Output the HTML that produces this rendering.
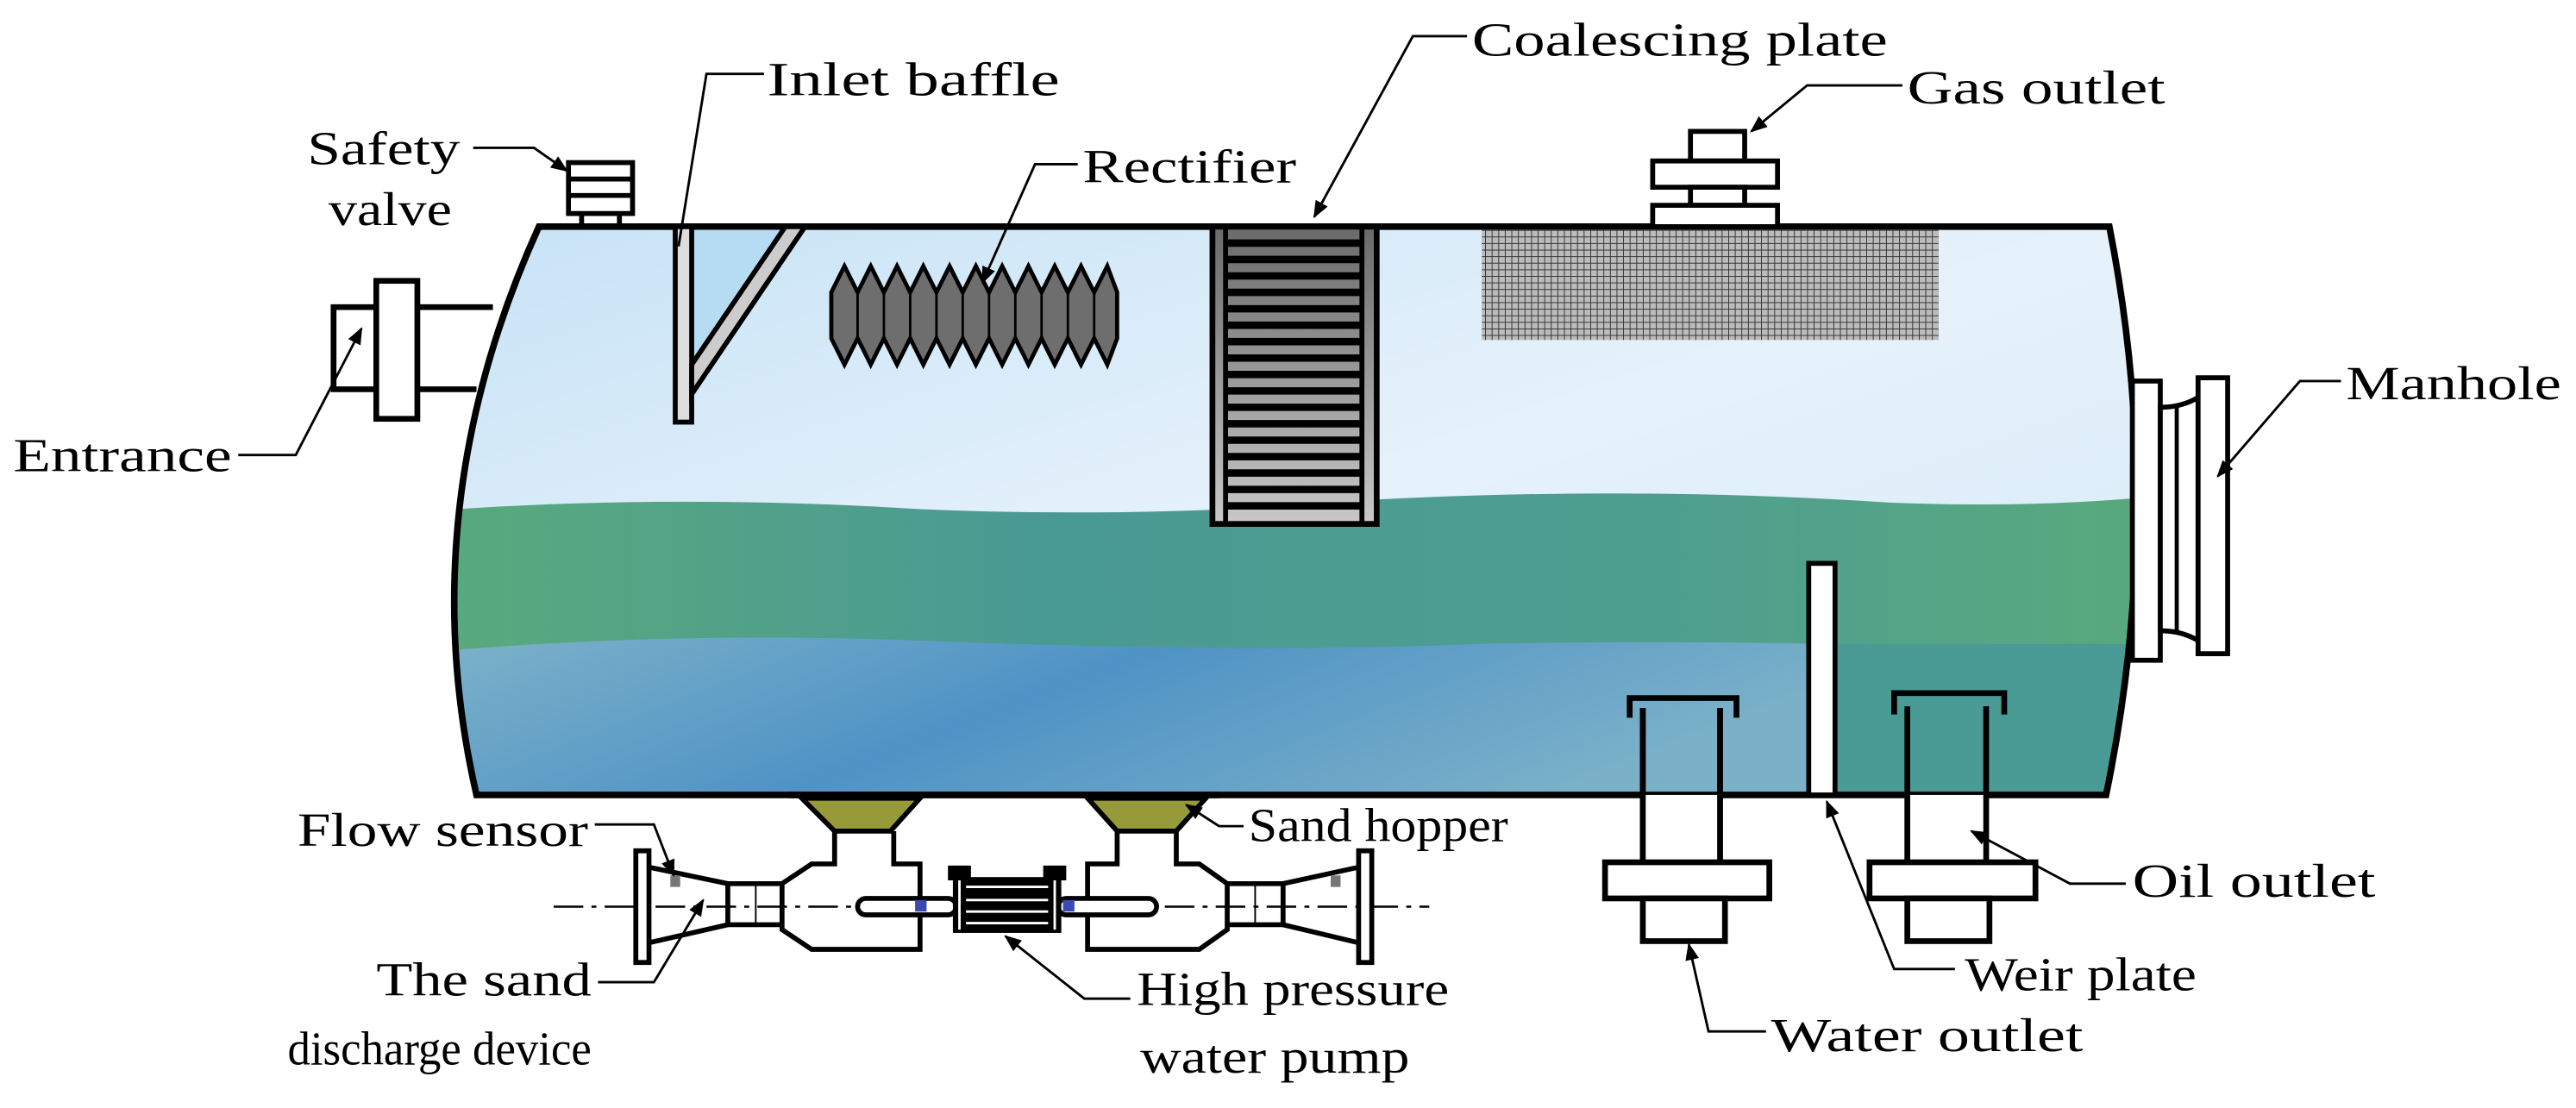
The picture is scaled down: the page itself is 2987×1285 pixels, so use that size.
<!DOCTYPE html>
<html><head><meta charset="utf-8"><style>
html,body{margin:0;padding:0;background:#fff;}
svg{display:block;}
text{font-family:"Liberation Serif",serif;font-size:29px;fill:#000;}
</style></head><body>
<svg width="2987" height="1285" viewBox="0 0 1568 674.6" xmlns="http://www.w3.org/2000/svg">
<defs>
<linearGradient id="gtop" x1="0" y1="0" x2="1" y2="1"><stop offset="0" stop-color="#c6e2f6"/><stop offset="0.5" stop-color="#e6f2fb"/><stop offset="1" stop-color="#d2e8f7"/></linearGradient>
<linearGradient id="gmid" x1="0" y1="0" x2="1" y2="0"><stop offset="0" stop-color="#5aaa7c"/><stop offset="0.35" stop-color="#4a9a94"/><stop offset="0.7" stop-color="#4e9e90"/><stop offset="1" stop-color="#5aaa7c"/></linearGradient>
<linearGradient id="gbot" x1="0" y1="0" x2="1" y2="0.3"><stop offset="0" stop-color="#7fb3c8"/><stop offset="0.5" stop-color="#4f93c6"/><stop offset="1" stop-color="#7ab0c8"/></linearGradient>
<linearGradient id="gcoal" x1="0" y1="0" x2="0" y2="1"><stop offset="0" stop-color="#6a6a6a"/><stop offset="1" stop-color="#c8c8c8"/></linearGradient>
<pattern id="mesh" width="4" height="4" patternUnits="userSpaceOnUse"><rect width="4" height="4" fill="#bbb"/><path d="M0 0H4M0 0V4" stroke="#333" stroke-width="1"/></pattern>
<clipPath id="tank"><path d="M328 138 L1284 138 Q1318 310 1282 484 L290 484 Q250 310 328 138 Z"/></clipPath>
<marker id="ar" viewBox="0 0 10 10" refX="9" refY="5" markerWidth="7" markerHeight="7" orient="auto"><path d="M0 1 L10 5 L0 9 Z" fill="#000"/></marker>
</defs>

<!-- tank fill -->
<g clip-path="url(#tank)">
<rect x="250" y="130" width="1080" height="360" fill="url(#gtop)"/>
<path d="M250 312 Q400 300 560 310 Q700 316 840 304 Q1000 296 1150 306 Q1250 310 1330 300 L1330 490 L250 490 Z" fill="url(#gmid)"/>
<path d="M250 398 Q400 384 560 390 Q760 398 900 392 Q1000 390 1110 392 L1110 490 L250 490 Z" fill="url(#gbot)"/>
<path d="M1117 392 L1330 392 L1330 490 L1117 490 Z" fill="#4a9a96"/>
</g>
<path d="M328 138 L1284 138 Q1318 310 1282 484 L290 484 Q250 310 328 138 Z" fill="none" stroke="#000" stroke-width="4"/>

<!-- safety valve -->
<rect x="346" y="99" width="39" height="31" fill="#fff" stroke="#000" stroke-width="3"/>
<line x1="346" y1="109" x2="385" y2="109" stroke="#000" stroke-width="3"/>
<line x1="346" y1="119" x2="385" y2="119" stroke="#000" stroke-width="3"/>
<line x1="354" y1="130" x2="354" y2="138" stroke="#000" stroke-width="3"/>
<line x1="377" y1="130" x2="377" y2="138" stroke="#000" stroke-width="3"/>

<!-- entrance -->
<path d="M300 187 L203 187 L203 237 L290 237" fill="#fff" stroke="#000" stroke-width="3.5"/>
<rect x="229" y="171" width="25" height="84" fill="#fff" stroke="#000" stroke-width="3.5"/>

<!-- inlet baffle -->
<path d="M421 140 L478 140 L421 232 Z" fill="#b6dcf4"/>
<rect x="411" y="138" width="10" height="119" fill="#ddd" stroke="#000" stroke-width="3"/>
<path d="M421 222 L478 138 L490 138 L421 240 Z" fill="#ccc" stroke="#000" stroke-width="3"/>

<!-- rectifier -->
<path d="M506 178 L514 162 L522 178 L530 162 L538 178 L546 162 L554 178 L562 162 L570 178 L578 162 L586 178 L594 162 L602 178 L610 162 L618 178 L626 162 L634 178 L642 162 L650 178 L658 162 L666 178 L674 162 L680 178 L680 206 L674 222 L666 206 L658 222 L650 206 L642 222 L634 206 L626 222 L618 206 L610 222 L602 206 L594 222 L586 206 L578 222 L570 206 L562 222 L554 206 L546 222 L538 206 L530 222 L522 206 L514 222 L506 206 Z" fill="#6e6e6e" stroke="#000" stroke-width="2.5" stroke-linejoin="miter"/>
<g stroke="#000" stroke-width="1.5"><line x1="522" y1="178" x2="522" y2="206"/><line x1="538" y1="178" x2="538" y2="206"/><line x1="554" y1="178" x2="554" y2="206"/><line x1="570" y1="178" x2="570" y2="206"/><line x1="586" y1="178" x2="586" y2="206"/><line x1="602" y1="178" x2="602" y2="206"/><line x1="618" y1="178" x2="618" y2="206"/><line x1="634" y1="178" x2="634" y2="206"/><line x1="650" y1="178" x2="650" y2="206"/><line x1="666" y1="178" x2="666" y2="206"/></g>

<!-- coalescing plate -->
<rect x="738" y="138" width="100" height="181" fill="url(#gcoal)" stroke="#000" stroke-width="3.5"/>
<rect x="746" y="138" width="83" height="181" fill="none" stroke="#000" stroke-width="3"/>
<g stroke="#000" stroke-width="4.5">
<line x1="746" y1="148" x2="829" y2="148"/><line x1="746" y1="158" x2="829" y2="158"/><line x1="746" y1="168" x2="829" y2="168"/><line x1="746" y1="178" x2="829" y2="178"/><line x1="746" y1="188" x2="829" y2="188"/><line x1="746" y1="198" x2="829" y2="198"/><line x1="746" y1="208" x2="829" y2="208"/><line x1="746" y1="218" x2="829" y2="218"/><line x1="746" y1="228" x2="829" y2="228"/><line x1="746" y1="238" x2="829" y2="238"/><line x1="746" y1="248" x2="829" y2="248"/><line x1="746" y1="258" x2="829" y2="258"/><line x1="746" y1="268" x2="829" y2="268"/><line x1="746" y1="278" x2="829" y2="278"/><line x1="746" y1="288" x2="829" y2="288"/><line x1="746" y1="298" x2="829" y2="298"/><line x1="746" y1="308" x2="829" y2="308"/>
</g>

<!-- mesh -->
<rect x="902" y="140" width="278" height="67" fill="url(#mesh)"/>

<!-- gas outlet -->
<rect x="1029" y="80" width="33" height="18" fill="#fff" stroke="#000" stroke-width="3"/>
<rect x="1006" y="98" width="76" height="16" fill="#fff" stroke="#000" stroke-width="3"/>
<rect x="1029" y="114" width="33" height="11" fill="#fff" stroke="#000" stroke-width="3"/>
<rect x="1006" y="125" width="76" height="13" fill="#fff" stroke="#000" stroke-width="3"/>

<!-- manhole -->
<rect x="1298" y="232" width="17" height="170" fill="#fff" stroke="#000" stroke-width="3"/>
<path d="M1315 248 Q1328 248 1338 242 L1338 390 Q1328 384 1315 384 Z" fill="#fff" stroke="#000" stroke-width="3"/>
<line x1="1325" y1="246" x2="1325" y2="386" stroke="#000" stroke-width="2.5"/>
<rect x="1338" y="230" width="18" height="168" fill="#fff" stroke="#000" stroke-width="3"/>

<!-- weir plate -->
<rect x="1101" y="343" width="16" height="141" fill="#fff" stroke="#000" stroke-width="3"/>

<!-- water outlet -->
<path d="M992 437 L992 425 L1057 425 L1057 437" fill="none" stroke="#000" stroke-width="3.5"/>
<rect x="1000" y="431" width="47" height="94" fill="none" stroke="none"/>
<path d="M1000 431 L1000 525 M1047 431 L1047 525" stroke="#000" stroke-width="3.5"/>
<rect x="1000" y="484" width="47" height="41" fill="#fff"/>
<path d="M1000 431 L1000 525 M1047 431 L1047 525" stroke="#000" stroke-width="3.5"/>
<rect x="977" y="525" width="100" height="22" fill="#fff" stroke="#000" stroke-width="3.5"/>
<rect x="1000" y="547" width="50" height="26" fill="#fff" stroke="#000" stroke-width="3.5"/>

<!-- oil outlet -->
<path d="M1153 435 L1153 422 L1220 422 L1220 435" fill="none" stroke="#000" stroke-width="3.5"/>
<rect x="1161" y="484" width="48" height="41" fill="#fff"/>
<path d="M1161 430 L1161 525 M1209 430 L1209 525" stroke="#000" stroke-width="3.5"/>
<rect x="1138" y="525" width="101" height="22" fill="#fff" stroke="#000" stroke-width="3.5"/>
<rect x="1161" y="547" width="50" height="26" fill="#fff" stroke="#000" stroke-width="3.5"/>

<!-- sand hoppers -->
<path d="M488 486 L560 486 L542 506 L508 506 Z" fill="#969a38" stroke="#000" stroke-width="3"/>
<path d="M662 486 L734 486 L716 506 L680 506 Z" fill="#969a38" stroke="#000" stroke-width="3"/>
<line x1="480" y1="484" x2="742" y2="484" stroke="#000" stroke-width="4"/>

<!-- centerline -->
<line x1="337" y1="552" x2="870" y2="552" stroke="#000" stroke-width="1.3" stroke-dasharray="18 5 3 5"/>

<!-- body 1 -->
<path d="M508 506 L508 526 L494 526 L476 538 L476 566 L494 578 L560 578 L560 526 L544 526 L544 506" fill="none" stroke="#000" stroke-width="3"/>
<path d="M476 538 L443 538 L443 563 L476 563" fill="none" stroke="#000" stroke-width="3"/>
<line x1="460" y1="538" x2="460" y2="563" stroke="#000" stroke-width="1"/>
<path d="M443 538 L395 528 M443 563 L395 574" stroke="#000" stroke-width="3"/>
<rect x="387" y="518" width="8" height="68" fill="#fff" stroke="#000" stroke-width="3"/>
<rect x="408" y="533" width="6" height="7" fill="#777"/>

<!-- body 2 -->
<path d="M680 506 L680 526 L662 526 L662 578 L730 578 L747 566 L747 538 L730 526 L716 526 L716 506" fill="none" stroke="#000" stroke-width="3"/>
<path d="M747 538 L781 538 L781 563 L747 563" fill="none" stroke="#000" stroke-width="3"/>
<line x1="764" y1="538" x2="764" y2="563" stroke="#000" stroke-width="1"/>
<path d="M781 538 L827 528 M781 563 L827 574" stroke="#000" stroke-width="3"/>
<rect x="827" y="518" width="8" height="68" fill="#fff" stroke="#000" stroke-width="3"/>
<rect x="810" y="533" width="6" height="7" fill="#777"/>

<!-- pump shafts -->
<rect x="522" y="547" width="60" height="10" rx="5" fill="#fff" stroke="#000" stroke-width="3"/>
<rect x="644" y="547" width="60" height="10" rx="5" fill="#fff" stroke="#000" stroke-width="3"/>
<rect x="557" y="548" width="7" height="7" fill="#3a4ab0"/>
<rect x="647" y="548" width="7" height="7" fill="#3a4ab0"/>
<!-- pump -->
<rect x="580" y="534" width="66" height="34" fill="#000"/>
<rect x="577" y="527" width="14" height="9" fill="#000"/>
<rect x="635" y="527" width="14" height="9" fill="#000"/>
<g stroke="#fff" stroke-width="1.5"><line x1="588" y1="540" x2="638" y2="540"/><line x1="588" y1="548" x2="638" y2="548"/><line x1="588" y1="555" x2="638" y2="555"/><line x1="588" y1="562" x2="638" y2="562"/><line x1="584" y1="536" x2="584" y2="566"/><line x1="642" y1="536" x2="642" y2="566"/></g>

<!-- leaders -->
<g fill="none" stroke="#000" stroke-width="1.5">
<polyline points="288,90 325,90 345,104" marker-end="url(#ar)"/>
<polyline points="465,45 430,45 413,150"/>
<polyline points="656,100 630,100 598,172" marker-end="url(#ar)"/>
<polyline points="893,22 860,22 800,132" marker-end="url(#ar)"/>
<polyline points="1158,52 1100,52 1066,80" marker-end="url(#ar)"/>
<polyline points="1425,232 1400,232 1350,290" marker-end="url(#ar)"/>
<polyline points="145,277 180,277 220,200" marker-end="url(#ar)"/>
<polyline points="362,502 398,502 410,533" marker-end="url(#ar)"/>
<polyline points="757,503 742,503 722,490" marker-end="url(#ar)"/>
<polyline points="364,598 398,598 428,548" marker-end="url(#ar)"/>
<polyline points="688,608 660,608 612,570" marker-end="url(#ar)"/>
<polyline points="1294,538 1260,538 1200,506" marker-end="url(#ar)"/>
<polyline points="1190,590 1153,590 1112,488" marker-end="url(#ar)"/>
<polyline points="1075,628 1040,628 1028,575" marker-end="url(#ar)"/>
</g>

<!-- labels -->
<text x="187" y="100" textLength="93" lengthAdjust="spacingAndGlyphs">Safety</text>
<text x="200" y="137" textLength="75" lengthAdjust="spacingAndGlyphs">valve</text>
<text x="467" y="58" textLength="178" lengthAdjust="spacingAndGlyphs">Inlet baffle</text>
<text x="659" y="111" textLength="130" lengthAdjust="spacingAndGlyphs">Rectifier</text>
<text x="896" y="34" textLength="253" lengthAdjust="spacingAndGlyphs">Coalescing plate</text>
<text x="1161" y="63" textLength="157" lengthAdjust="spacingAndGlyphs">Gas outlet</text>
<text x="1428" y="243" textLength="131" lengthAdjust="spacingAndGlyphs">Manhole</text>
<text x="8" y="287" textLength="133" lengthAdjust="spacingAndGlyphs">Entrance</text>
<text x="181" y="515" textLength="177" lengthAdjust="spacingAndGlyphs">Flow sensor</text>
<text x="760" y="512" textLength="158" lengthAdjust="spacingAndGlyphs">Sand hopper</text>
<text x="229" y="606" textLength="131" lengthAdjust="spacingAndGlyphs">The sand</text>
<text x="175" y="648" textLength="185" lengthAdjust="spacingAndGlyphs">discharge device</text>
<text x="692" y="612" textLength="190" lengthAdjust="spacingAndGlyphs">High pressure</text>
<text x="694" y="653" textLength="164" lengthAdjust="spacingAndGlyphs">water pump</text>
<text x="1298" y="546" textLength="148" lengthAdjust="spacingAndGlyphs">Oil outlet</text>
<text x="1196" y="603" textLength="141" lengthAdjust="spacingAndGlyphs">Weir plate</text>
<text x="1078" y="640" textLength="190" lengthAdjust="spacingAndGlyphs">Water outlet</text>
</svg>
</body></html>
